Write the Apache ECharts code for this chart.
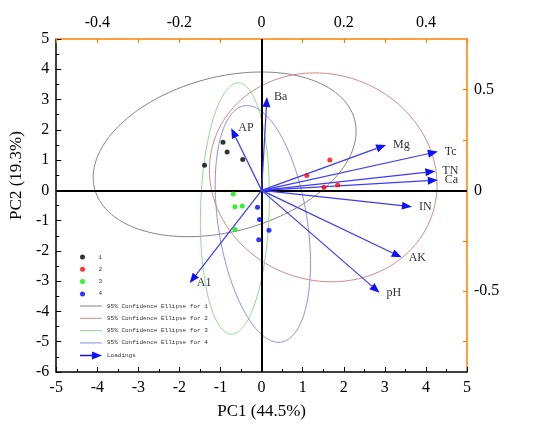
<!DOCTYPE html>
<html><head><meta charset="utf-8">
<script src="https://cdn.jsdelivr.net/npm/echarts@6/dist/echarts.min.js"></script>
<style>html,body{margin:0;padding:0;background:#fff}#c{width:554px;height:444px}</style>
</head><body><div id="c"></div>
<script>
// ---------- data ----------
const groupNames = ['1', '2', '3', '4'];
const group1 = [[-0.94, 1.59], [-0.84, 1.27], [-0.46, 1.02], [-1.39, 0.83]];
const group2 = [[1.66, 1.00], [1.10, 0.49], [1.52, 0.10], [1.85, 0.18]];
const group3 = [[-0.69, -0.12], [-0.65, -0.54], [-0.47, -0.52], [-0.65, -1.29]];
const group4 = [[-0.10, -0.56], [-0.05, -0.96], [0.18, -1.32], [-0.07, -1.63]];
const groupColors = ['#000000', '#ff0000', '#00ee00', '#0000ff'];

// confidence ellipses: [centerPC1, centerPC2, halfWidthPC1, halfHeightPC2, PC2 offset at rightmost point]
const ellipseNames = ['95% Confidence Ellipse for 1', '95% Confidence Ellipse for 2', '95% Confidence Ellipse for 3', '95% Confidence Ellipse for 4'];
const ellipse1 = [-0.90, 1.19, 3.20, 2.72, 0.76];
const ellipse2 = [1.50, 0.43, 2.77, 3.45, -0.25];
const ellipse3 = [-0.65, -0.60, 0.84, 4.15, 0.40];
const ellipse4 = [0.03, -1.11, 1.16, 3.91, -1.30];
const ellipseColors = ['#858585', '#d08a8a', '#8fdc8f', '#8e8ee6'];

// loadings (top / right axes)
const loadingNames = ['Ba', 'AP', 'Mg', 'Tc', 'TN', 'Ca', 'IN', 'AK', 'pH', 'A1'];
const loadingPC1 = [0.013, -0.074, 0.303, 0.429, 0.423, 0.429, 0.366, 0.341, 0.287, -0.175];
const loadingPC2 = [0.463, 0.308, 0.225, 0.192, 0.095, 0.051, -0.081, -0.332, -0.507, -0.459];

// right axis ticks / labels
const rightTicks = [-0.75, -0.5, -0.25, 0, 0.25, 0.5];
const rightLabels = [-0.5, 0, 0.5];

// ---------- chart ----------
const ORANGE = '#ff8000';
const SERIF = '"Liberation Serif", "Times New Roman", serif';
const MONO = '"Liberation Mono", "DejaVu Sans Mono", monospace';

function ellipseRender(color) {
  return function (params, api) {
    const cx = api.value(0), cy = api.value(1), w = api.value(2), h = api.value(3), c = api.value(4);
    const d = Math.sqrt(Math.max(h * h - c * c, 0));
    const pts = [];
    for (let k = 0; k <= 200; k++) {
      const t = 2 * Math.PI * k / 200;
      pts.push(api.coord([cx + w * Math.cos(t), cy + c * Math.cos(t) + d * Math.sin(t)]));
    }
    return { type: 'polyline', silent: true, shape: { points: pts }, style: { stroke: color, fill: null, lineWidth: 1 } };
  };
}

function loadingRender(params, api) {
  const o = api.coord([0, 0]);
  const p = api.coord([api.value(0), api.value(1)]);
  const dx = p[0] - o[0], dy = p[1] - o[1];
  const L = Math.hypot(dx, dy) || 1;
  const ux = dx / L, uy = dy / L;
  const hl = 10, hw = 4;
  const bx = p[0] - ux * hl, by = p[1] - uy * hl;
  return {
    type: 'group', children: [
      { type: 'line', shape: { x1: o[0], y1: o[1], x2: bx, y2: by }, style: { stroke: '#3c3cf2', lineWidth: 1.2 } },
      { type: 'polygon', shape: { points: [[p[0], p[1]], [bx - uy * hw, by + ux * hw], [bx + uy * hw, by - ux * hw]] }, style: { fill: '#1010ff' } },
      { type: 'text', x: p[0] + 7, y: p[1], style: { text: loadingNames[params.dataIndex], font: '12px ' + SERIF, fill: '#333', align: 'left', verticalAlign: 'middle' } }
    ]
  };
}

const groups = [group1, group2, group3, group4];
const ellipses = [ellipse1, ellipse2, ellipse3, ellipse4];

const series = [];
ellipses.forEach((e, i) => {
  series.push({
    name: ellipseNames[i], type: 'custom', xAxisIndex: 0, yAxisIndex: 0,
    renderItem: ellipseRender(ellipseColors[i]), data: [e], itemStyle: { color: ellipseColors[i] },
    encode: { x: 0, y: 1 }, silent: true, z: 2
  });
});
groups.forEach((g, i) => {
  const s = {
    name: groupNames[i], type: 'scatter', xAxisIndex: 0, yAxisIndex: 0, data: g,
    symbol: 'circle', symbolSize: 5, itemStyle: { color: groupColors[i] }, z: 5, silent: true
  };
  if (i === 0) {
    s.markLine = {
      silent: true, symbol: ['none', 'none'], label: { show: false },
      lineStyle: { color: '#000', width: 2, type: 'solid' },
      data: [{ xAxis: 0 }, { yAxis: 0 }], z: 3
    };
  }
  series.push(s);
});
series.push({
  name: 'Loadings', type: 'custom', xAxisIndex: 1, yAxisIndex: 1,
  data: loadingPC1.map((x, i) => [x, loadingPC2[i]]), renderItem: loadingRender,
  itemStyle: { color: '#1010ff' }, encode: { x: 0, y: 1 }, silent: true, z: 4
});

const arrowIcon = 'path://M0,3.3H13V4.7H0Z M12,0L22,4L12,8Z';
const lineIcon = 'path://M0,0H22V1H0Z';
const legendText = { fontFamily: MONO, fontSize: 6, color: '#333', lineHeight: 8 };

const option = {
  animation: false,
  backgroundColor: '#fff',
  grid: { left: 54, top: 39, width: 413, height: 333 },
  xAxis: [
    {
      type: 'value', position: 'bottom', min: -5, max: 5, interval: 1,
      name: 'PC1 (44.5%)', nameLocation: 'middle', nameGap: 31,
      nameTextStyle: { fontFamily: SERIF, fontSize: 17, color: '#000' },
      axisLine: { onZero: false, lineStyle: { color: '#000', width: 1.5 } },
      axisTick: { inside: true, length: 5, lineStyle: { color: '#000', width: 1 } },
      minorTick: { show: true, splitNumber: 2, length: 3, lineStyle: { color: '#000', width: 1 } },
      axisLabel: { margin: 8, fontFamily: SERIF, fontSize: 16, color: '#000' },
      splitLine: { show: false }
    },
    {
      type: 'value', position: 'top', min: -0.5, max: 0.5, interval: 0.1,
      axisLine: { onZero: false, lineStyle: { color: ORANGE, width: 1.5 } },
      axisTick: { inside: true, length: 4, lineStyle: { color: ORANGE, width: 1.2 } },
      axisLabel: {
        margin: 8, fontFamily: SERIF, fontSize: 16, color: '#000',
        formatter: function (v) { const r = Math.round(v * 10); return (r % 2 === 0 && Math.abs(r) < 5) ? String(r / 10) : ''; }
      },
      splitLine: { show: false }
    }
  ],
  yAxis: [
    {
      type: 'value', position: 'left', min: -6, max: 5, interval: 1,
      name: 'PC2 (19.3%)', nameLocation: 'middle', nameGap: 24,
      nameTextStyle: { fontFamily: SERIF, fontSize: 17, color: '#000', padding: [0, 0, 0, 60] },
      axisLine: { onZero: false, lineStyle: { color: '#000', width: 1.5 } },
      axisTick: { inside: true, length: 5, lineStyle: { color: '#000', width: 1 } },
      minorTick: { show: true, splitNumber: 2, length: 3, lineStyle: { color: '#000', width: 1 } },
      axisLabel: { margin: 7, fontFamily: SERIF, fontSize: 16, color: '#000' },
      splitLine: { show: false }
    },
    {
      type: 'value', position: 'right', min: -0.9, max: 0.75,
      axisLine: { onZero: false, lineStyle: { color: ORANGE, width: 1.5 } },
      axisTick: { inside: true, length: 4, customValues: rightTicks, lineStyle: { color: ORANGE, width: 1.2 } },
      axisLabel: { margin: 7, fontFamily: SERIF, fontSize: 16, color: '#000', customValues: rightLabels },
      splitLine: { show: false }
    }
  ],
  legend: [
    {
      orient: 'vertical', left: 80, top: 253, padding: 0, itemWidth: 22, itemHeight: 5, itemGap: 4.3, selectedMode: false,
      textStyle: legendText,
      data: groupNames.map((n, i) => ({ name: n, icon: 'circle', itemStyle: { color: groupColors[i] } }))
    },
    {
      orient: 'vertical', left: 80, top: 302, padding: 0, itemWidth: 22, itemHeight: 8, itemGap: 4.3, selectedMode: false,
      textStyle: legendText,
      data: ellipseNames.map((n, i) => ({ name: n, icon: lineIcon, itemStyle: { color: ellipseColors[i] } }))
    },
    {
      orient: 'vertical', left: 80, top: 351.5, padding: 0, itemWidth: 22, itemHeight: 8, selectedMode: false,
      textStyle: legendText,
      data: [{ name: 'Loadings', icon: arrowIcon, itemStyle: { color: '#1010ff' } }]
    }
  ],
  series: series
};

const chart = echarts.init(document.getElementById('c'), null, { renderer: 'canvas' });
chart.setOption(option);
</script>
</body></html>
